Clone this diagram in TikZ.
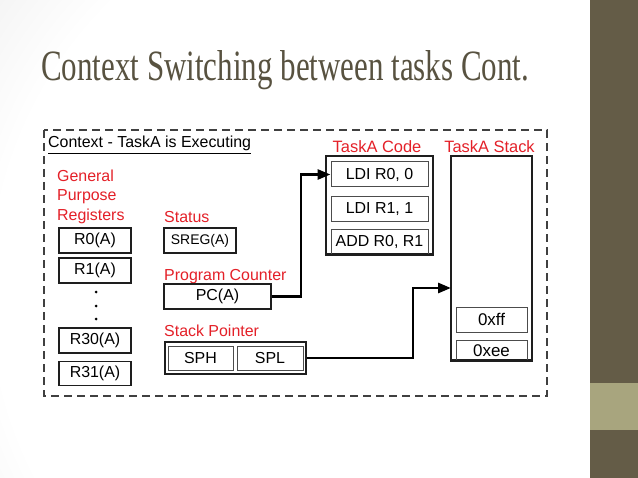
\documentclass[tikz,border=0pt]{standalone}
\usepackage{fontspec}
\usepackage{graphicx}
\setmainfont{Liberation Sans}
\newfontfamily\titlefont{Liberation Serif}
\usetikzlibrary{arrows.meta,positioning}
\definecolor{lblred}{RGB}{228,32,40}
\definecolor{darkolive}{RGB}{100,92,71}
\definecolor{lightolive}{RGB}{168,165,126}
\definecolor{titlecol}{RGB}{88,82,64}
\definecolor{boxline}{RGB}{30,30,30}
\pgfdeclareradialshading{vignette}{\pgfpoint{0bp}{0bp}}{color(0bp)=(white); color(22bp)=(white); color(50bp)=(black!22)}
\begin{document}
\begin{tikzpicture}[x=1bp,y=-1bp,
  regbox/.style={draw=boxline,line width=1.6bp,inner sep=0pt,font=\fontsize{16}{16}\selectfont},
  innerbox/.style={draw=black!70,line width=1bp,inner sep=0pt,font=\fontsize{16}{16}\selectfont},
  outerbox/.style={draw=boxline,line width=1.6bp,inner sep=0pt},
  redlbl/.style={text=lblred,inner sep=0pt,anchor=base west,font=\fontsize{16}{16}\selectfont},
  conn/.style={line width=2.8bp,-{Triangle[length=13bp,width=10bp]}},
  wire/.style={line width=2.8bp}]
\useasboundingbox (0,0) rectangle (638,478);
% background
\shade[shading=vignette] (-60,-160) rectangle (820,740);
\fill[darkolive] (590,0) rectangle (638,478);
\fill[lightolive] (590,383) rectangle (638,430);
% title
\node[anchor=base west,inner sep=0pt,text=titlecol] (title) at (41,81)
  {\resizebox{488bp}{30bp}{\titlefont\fontsize{44}{44}\selectfont Context Switching between tasks Cont.}};
% frame
\draw[black!75,line width=1.5bp,dash pattern=on 8bp off 5bp] (44,130) rectangle (547,396);
\node[anchor=base west,inner sep=0pt,font=\fontsize{16}{16}\selectfont] (ctx) at (48,148)
  {\underline{Context - TaskA is Executing}};
% left registers
\node[redlbl] (gen) at (57,182) {General};
\node[redlbl] (pur) at (57,201) {Purpose};
\node[redlbl] (reg) at (57,220.5) {Registers};
\node[regbox,minimum width=72bp,minimum height=25bp] (r0) at (95,240.5) {R0(A)};
\node[regbox,minimum width=72bp,minimum height=25bp] (r1) at (95,270.5) {R1(A)};
\node[regbox,minimum width=72bp,minimum height=25bp] (r30) at (95,340.5) {R30(A)};
\node[regbox,minimum width=72bp,minimum height=24bp] (r31) at (95,373.5) {R31(A)};
\fill (96,292) circle (1.5bp) (96,306) circle (1.5bp) (96,319) circle (1.5bp);
% status
\node[redlbl] (stl) at (164,223) {Status};
\node[regbox,minimum width=72bp,minimum height=25bp,font=\fontsize{14}{14}\selectfont] (sreg) at (200,240.5) {SREG(A)};
% program counter
\node[redlbl] (pcl) at (164,280) {Program Counter};
\node[regbox,minimum width=107bp,minimum height=25bp] (pc) at (217.5,296.5) {PC(A)};
% stack pointer
\node[redlbl] (spl_l) at (164,336) {Stack Pointer};
\node[outerbox,minimum width=141bp,minimum height=32bp] (spo) at (235.5,358) {};
\node[innerbox,minimum width=65bp,minimum height=24bp] (sph) at (200.5,358) {SPH};
\node[innerbox,minimum width=66bp,minimum height=24bp] (spl) at (270,358) {SPL};
% code
\node[text=lblred,inner sep=0pt,anchor=base,font=\fontsize{16.5}{16.5}\selectfont] (codel) at (377,152.5) {TaskA Code};
\node[outerbox,minimum width=107bp,minimum height=98bp] (code) at (379.5,205) {};
\node[innerbox,minimum width=97bp,minimum height=25bp] (ldi0) at (379.5,174.5) {LDI R0, 0};
\node[innerbox,minimum width=97bp,minimum height=25bp] (ldi1) at (379.5,209.5) {LDI R1, 1};
\node[innerbox,minimum width=97bp,minimum height=24bp] (add) at (379.5,242) {ADD R0, R1};
\draw[boxline,line width=1.6bp] (code.south west) -- (code.south east);
% stack
\node[text=lblred,inner sep=0pt,anchor=base,font=\fontsize{16.5}{16.5}\selectfont] (stackl) at (489.5,152.5) {TaskA Stack};
\node[outerbox,minimum width=81bp,minimum height=204bp] (sto) at (491.5,258) {};
\node[innerbox,minimum width=71bp,minimum height=25bp,font=\fontsize{17}{17}\selectfont] (xff) at (491.5,319.5) {0xff};
\node[innerbox,minimum width=71bp,minimum height=21bp,font=\fontsize{17}{17}\selectfont] (xee) at (491.5,350.5) {0xee};
\draw[boxline,line width=1.6bp] (sto.south west) -- (sto.south east);
% connectors
\coordinate (pcbend) at (301,240);
\draw[conn] (pc.east) -| (pcbend) |- (ldi0.west);
\coordinate (spbend) at (413,320);
\coordinate (spin) at (451,288);
\draw[conn] (spo.east) -| (spbend) |- (spin);
\end{tikzpicture}
\end{document}
